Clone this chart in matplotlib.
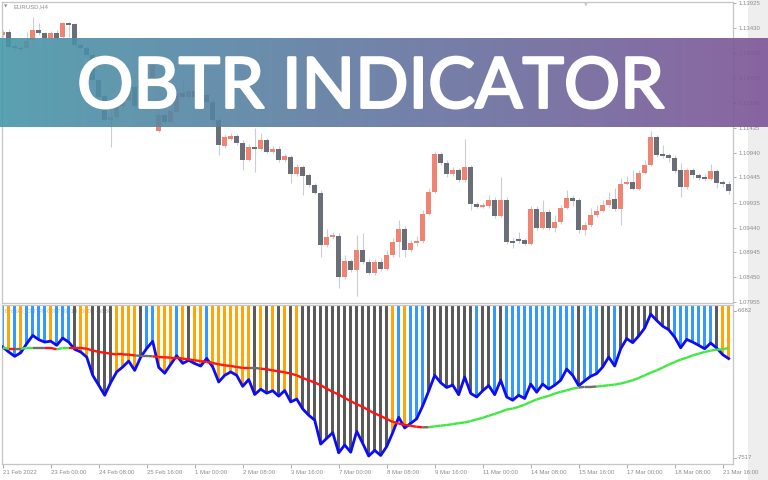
import numpy as np
import matplotlib
matplotlib.use("Agg")
from matplotlib import pyplot as plt
from matplotlib.patches import Rectangle
import matplotlib.patheffects as pe

# EURUSD H4 candles, one entry per bar (21 Feb 16:00 .. 21 Mar 20:00)
opens = [1.13285, 1.13339, 1.13075, 1.13035, 1.13031, 1.13185, 1.13385, 1.13319, 1.13231, 1.13325,
         1.13239, 1.13531, 1.13499, 1.13095, 1.13025, 1.12895, 1.12385, 1.12075, 1.11585, 1.11651,
         1.11865, 1.11985, 1.12239, 1.11865, 1.12351, 1.12419, 1.11371, 1.11685, 1.11551, 1.11751,
         1.12119, 1.12039, 1.12171, 1.12045, 1.12085, 1.11951, 1.11585, 1.11071, 1.11219, 1.11271,
         1.11131, 1.10799, 1.11051, 1.11005, 1.11185, 1.10951, 1.11019, 1.10785, 1.10851, 1.10505,
         1.10651, 1.10485, 1.10285, 1.10139, 1.09085, 1.09251, 1.09279, 1.08451, 1.08771, 1.08585,
         1.08985, 1.08751, 1.08531, 1.08751, 1.08619, 1.08885, 1.09151, 1.09419, 1.08985, 1.09139,
         1.09171, 1.09719, 1.10151, 1.10919, 1.10739, 1.10505, 1.10585, 1.10385, 1.10651, 1.09905,
         1.09851, 1.09865, 1.09999, 1.09671, 1.09999, 1.09171, 1.09205, 1.09185, 1.09119, 1.09819,
         1.09431, 1.09751, 1.09431, 1.09551, 1.09831, 1.10039, 1.09985, 1.09385, 1.09485, 1.09685,
         1.09771, 1.09885, 1.10019, 1.09805, 1.10319, 1.10351, 1.10219, 1.10531, 1.10699, 1.11251,
         1.10905, 1.10885, 1.10839, 1.10585, 1.10251, 1.10585, 1.10485, 1.10451, 1.10419, 1.10565,
         1.10351, 1.10319]
highs = [1.13385, 1.13405, 1.13125, 1.13065, 1.13339, 1.13651, 1.13519, 1.13345, 1.13365, 1.13385,
         1.13551, 1.13555, 1.13525, 1.13125, 1.13065, 1.12945, 1.12425, 1.12125, 1.11785, 1.11925,
         1.12065, 1.12305, 1.12285, 1.12445, 1.12505, 1.12725, 1.11745, 1.11725, 1.11825, 1.12225,
         1.12425, 1.12265, 1.12225, 1.12145, 1.12125, 1.12005, 1.11625, 1.11305, 1.11325, 1.11305,
         1.11185, 1.11105, 1.11425, 1.11325, 1.11225, 1.11065, 1.11065, 1.10905, 1.10885, 1.10705,
         1.10685, 1.10525, 1.10325, 1.10185, 1.09405, 1.09345, 1.09325, 1.08885, 1.08805, 1.09285,
         1.09331, 1.08805, 1.08805, 1.08825, 1.08985, 1.09225, 1.09585, 1.09465, 1.09185, 1.09265,
         1.09785, 1.10225, 1.10965, 1.10951, 1.10785, 1.10645, 1.10625, 1.11219, 1.10685, 1.09945,
         1.09925, 1.10085, 1.10045, 1.10451, 1.10045, 1.09225, 1.09345, 1.09225, 1.09865, 1.09865,
         1.09985, 1.09805, 1.09685, 1.09885, 1.10185, 1.10085, 1.10025, 1.09545, 1.09825, 1.09885,
         1.09985, 1.10145, 1.10225, 1.10425, 1.10465, 1.10585, 1.10585, 1.10785, 1.11365, 1.11285,
         1.11085, 1.10925, 1.10885, 1.10725, 1.10625, 1.10625, 1.10525, 1.10505, 1.10705, 1.10605,
         1.10385, 1.10365]
lows = [1.13255, 1.13025, 1.12985, 1.12965, 1.13005, 1.13165, 1.13285, 1.13185, 1.13205, 1.13205,
        1.13215, 1.13251, 1.13055, 1.12985, 1.12845, 1.12345, 1.11865, 1.11545, 1.11051, 1.11585,
        1.11825, 1.11965, 1.11785, 1.11825, 1.12325, 1.12385, 1.11345, 1.11505, 1.11525, 1.11725,
        1.12005, 1.12005, 1.11985, 1.12005, 1.11905, 1.11505, 1.10885, 1.11025, 1.11185, 1.11085,
        1.10585, 1.10765, 1.10551, 1.10985, 1.10925, 1.10925, 1.10745, 1.10745, 1.10325, 1.10465,
        1.10085, 1.10245, 1.10105, 1.08851, 1.09045, 1.09205, 1.08225, 1.08405, 1.08545, 1.08071,
        1.08705, 1.08485, 1.08485, 1.08565, 1.08585, 1.08845, 1.08851, 1.08845, 1.08945, 1.09065,
        1.09125, 1.09685, 1.10125, 1.10685, 1.10445, 1.10465, 1.10345, 1.10345, 1.09785, 1.09825,
        1.09825, 1.09825, 1.09625, 1.09645, 1.09105, 1.09025, 1.09125, 1.09085, 1.09085, 1.09385,
        1.09405, 1.09385, 1.09345, 1.09505, 1.09805, 1.09865, 1.09325, 1.09285, 1.09445, 1.09645,
        1.09745, 1.09845, 1.09765, 1.09485, 1.10285, 1.10185, 1.10185, 1.10505, 1.10665, 1.10845,
        1.10825, 1.10745, 1.10525, 1.10045, 1.10205, 1.10425, 1.10385, 1.10365, 1.10385, 1.10225,
        1.10245, 1.10105]
closes = [1.13339, 1.13051, 1.13019, 1.13011, 1.13171, 1.13385, 1.13319, 1.13231, 1.13331, 1.13231,
          1.13531, 1.13491, 1.13085, 1.13019, 1.12885, 1.12385, 1.12051, 1.11585, 1.11655, 1.11885,
          1.12019, 1.12239, 1.11865, 1.12385, 1.12425, 1.12685, 1.11685, 1.11551, 1.11771, 1.12119,
          1.12039, 1.12171, 1.12045, 1.12085, 1.11951, 1.11585, 1.11085, 1.11251, 1.11271, 1.11131,
          1.10799, 1.11051, 1.11011, 1.11185, 1.10951, 1.11019, 1.10785, 1.10865, 1.10505, 1.10651,
          1.10465, 1.10285, 1.10139, 1.09085, 1.09251, 1.09299, 1.08451, 1.08771, 1.08585, 1.08985,
          1.08751, 1.08531, 1.08751, 1.08619, 1.08885, 1.09151, 1.09419, 1.08985, 1.09139, 1.09171,
          1.09719, 1.10151, 1.10919, 1.10739, 1.10505, 1.10585, 1.10385, 1.10651, 1.09905, 1.09851,
          1.09885, 1.09999, 1.09671, 1.09999, 1.09151, 1.09131, 1.09171, 1.09119, 1.09819, 1.09431,
          1.09751, 1.09431, 1.09551, 1.09831, 1.10039, 1.09971, 1.09385, 1.09485, 1.09685, 1.09771,
          1.09885, 1.09999, 1.09805, 1.10319, 1.10351, 1.10219, 1.10531, 1.10699, 1.11251, 1.10885,
          1.10871, 1.10839, 1.10565, 1.10251, 1.10585, 1.10485, 1.10439, 1.10419, 1.10565, 1.10339,
          1.10305, 1.10171]

# OBTR indicator: main line (also the histogram height) and its signal line
obtr = [-6906, -6932, -6955, -6936, -6888, -6845, -6867, -6880, -6875, -6897,
        -6859, -6880, -6918, -6932, -6959, -7055, -7107, -7160, -7093, -7037,
        -7011, -6980, -7029, -6959, -6913, -6876, -7013, -7044, -6997, -6952,
        -6992, -6976, -6993, -7006, -6966, -7011, -7090, -7055, -7037, -7055,
        -7113, -7077, -7156, -7128, -7149, -7136, -7165, -7135, -7195, -7180,
        -7232, -7265, -7291, -7417, -7387, -7357, -7463, -7422, -7460, -7350,
        -7413, -7480, -7450, -7477, -7430, -7357, -7276, -7332, -7308, -7284,
        -7216, -7138, -7055, -7094, -7119, -7106, -7157, -7064, -7150, -7169,
        -7136, -7109, -7157, -7081, -7169, -7186, -7160, -7177, -7101, -7144,
        -7101, -7127, -7107, -7081, -7022, -7055, -7110, -7084, -7060, -7046,
        -7011, -6959, -7006, -6915, -6862, -6883, -6848, -6806, -6733, -6766,
        -6796, -6815, -6854, -6910, -6866, -6880, -6897, -6915, -6885, -6911,
        -6946, -6967]
obtr_ma = [-6909, -6915, -6915, -6915, -6911, -6911, -6911, -6911, -6911, -6918,
           -6911, -6911, -6911, -6911, -6915, -6924, -6932, -6936, -6941, -6945,
           -6945, -6946, -6950, -6953, -6953, -6955, -6959, -6960, -6962, -6962,
           -6967, -6971, -6976, -6980, -6985, -6990, -6997, -7002, -7006, -7011,
           -7016, -7016, -7016, -7020, -7023, -7029, -7034, -7039, -7046, -7055,
           -7069, -7081, -7093, -7107, -7125, -7142, -7156, -7174, -7191, -7207,
           -7221, -7239, -7256, -7269, -7285, -7300, -7309, -7316, -7321, -7326,
           -7329, -7328, -7324, -7320, -7317, -7312, -7307, -7303, -7296, -7287,
           -7279, -7268, -7258, -7247, -7235, -7230, -7221, -7209, -7195, -7182,
           -7172, -7163, -7151, -7142, -7134, -7125, -7119, -7116, -7116, -7114,
           -7111, -7107, -7104, -7098, -7090, -7081, -7069, -7055, -7041, -7029,
           -7014, -6999, -6985, -6972, -6962, -6950, -6941, -6932, -6925, -6920,
           -6917, -6911]
# b = blue, o = orange, k = grey histogram bar
hist_colors = ("bobobbbbobbb" "kookkkkooook" "bbooobokoobo" "ooooookokoko"
               "kokkkkkkkkkkkkkkk" "obobbb" "kkkkkkkk" "bkkbk" "bbbbbbbbbbbb"
               "k" "bbb" "kk" "b" "kkkkkkkkk" "bbbbbbb" "k" "oo")
# g = green, r = red, k = grey signal segment
ma_colors = ("ggrkggkkrrgg" "rrrrrrrrrrr" "kkk" "rrrrrrrrrrrrrrrr" "kk"
             "rrrrrrrrrrrrrrrrrrrrrrrrrrr" "k" "ggggggggggggggggggggggggg"
             "kkk" "gggggggggggggggggggggg")

price_ticks = [1.13925, 1.13430, 1.12935, 1.12425, 1.11930, 1.11435, 1.10940,
               1.10445, 1.09935, 1.09440, 1.08945, 1.08450, 1.07955]
date_bars = [0, 8, 16, 24, 32, 40, 48, 56, 64, 72, 80, 88, 96, 104, 112, 120]
date_labels = ['21 Feb 2022', '23 Feb 00:00', '24 Feb 08:00', '25 Feb 16:00',
               '1 Mar 00:00', '2 Mar 08:00', '3 Mar 16:00', '7 Mar 00:00',
               '8 Mar 08:00', '9 Mar 16:00', '11 Mar 00:00', '14 Mar 08:00',
               '15 Mar 16:00', '17 Mar 00:00', '18 Mar 08:00', '21 Mar 16:00']
ind_range = (-7522, -6682)
ind_labels = ['-6682', '-7517']

BULL, BEAR, WICK = '#ef8473', '#6a6f77', '#c9cdda'
HIST = {'b': '#3399ff', 'o': '#ffa50a', 'k': '#5a5a5a'}
MA = {'r': '#ff1414', 'g': '#40e840', 'k': '#6e6e6e'}
TXT = '#8c8c8c'
FRAME = '#c6c6c6'

plt.rcParams['font.family'] = ['Liberation Sans', 'DejaVu Sans']

W, H = 768, 480
fig = plt.figure(figsize=(W / 100, H / 100), dpi=100)
fig.patch.set_facecolor('white')


def box(x0, y0, x1, y1):
    # pixel box (top-left origin) -> figure fraction rect
    return [x0 / W, 1 - y1 / H, (x1 - x0) / W, (y1 - y0) / H]


fig.add_artist(Rectangle((748 / W, 0), 20 / W, 1, transform=fig.transFigure,
                         facecolor='#eeeeee', edgecolor='none', zorder=-5))

x = np.arange(len(closes))
o, h, l, c = map(np.asarray, (opens, highs, lows, closes))
xlim = (-0.17, 121.77)

# ---- price panel ----
ax = fig.add_axes(box(1.7, 2, 733.3, 302.5))
ax.set_facecolor('white')
bull = c >= o
ax.vlines(x, l, h, color=WICK, lw=0.8, zorder=1)
ax.bar(x, np.maximum(np.abs(c - o), 0.00012), bottom=np.minimum(o, c), width=0.76,
       color=np.where(bull, BULL, BEAR), linewidth=0, zorder=2)
ax.set_xlim(*xlim)
ax.set_ylim(1.07945, 1.13945)
ax.set_xticks([])
ax.set_yticks(price_ticks, labels=[f'{p:.5f}' for p in price_ticks])
ax.tick_params(axis='y', left=False, right=True, labelleft=False, labelright=True,
               length=2.5, width=0.6, color='#a0a0a0', pad=1.5, labelsize=4.3,
               labelcolor=TXT)
for s in ax.spines.values():
    s.set_color(FRAME)
    s.set_linewidth(0.9)

fig.text(3.5 / W, 1 - 7 / H, '▼', fontsize=3.2, color=TXT, va='center',
         family='DejaVu Sans')
fig.text(13 / W, 1 - 7 / H, 'EURUSD,H4', fontsize=4.3, color=TXT, va='center')
fig.text(586 / W, 1 - 3.5 / H, '▼', fontsize=3.5, color='#c8c8c8', va='center',
         ha='center', family='DejaVu Sans')

# ---- indicator panel ----
ax2 = fig.add_axes(box(1.7, 304.5, 733.3, 464))
ax2.set_facecolor('white')
ax2.text(0.0045, 0.958, 'Brooky_OBTR -6697 -6919 -6900 -6880', transform=ax2.transAxes,
         fontsize=4.3, color='#b8b8b8', va='center', zorder=0)
ax2.bar(x, obtr, width=0.46, color=[HIST[k] for k in hist_colors], linewidth=0, zorder=1)
ax2.plot(x, obtr, color='#0c0cf5', lw=2.0, zorder=3)
for i in range(1, len(obtr_ma)):
    ax2.plot(x[i - 1:i + 1], obtr_ma[i - 1:i + 1], color=MA[ma_colors[i]], lw=1.7,
             solid_capstyle='butt', zorder=4)
ax2.set_xlim(*xlim)
ax2.set_ylim(*ind_range)
ax2.set_yticks([])
ax2.set_xticks(date_bars, labels=date_labels)
ax2.tick_params(axis='x', length=3, width=0.6, color='#a0a0a0', pad=1,
                labelsize=4.3, labelcolor=TXT)
for lbl in ax2.get_xticklabels():
    lbl.set_horizontalalignment('left')
for s in ax2.spines.values():
    s.set_color(FRAME)
    s.set_linewidth(0.9)
for yy, txt in zip((0.962, 0.038), ind_labels):
    ax2.plot([1.0, 1.0035], [yy, yy], color='#a0a0a0', lw=0.6,
             transform=ax2.transAxes, clip_on=False)
    ax2.text(1.0045, yy, txt, transform=ax2.transAxes, fontsize=4.3, color=TXT,
             va='center')

# ---- title banner laid over the chart ----
banner = fig.add_axes(box(0, 37.5, 768, 127.5), zorder=10)
t = np.linspace(0, 1, 256)[None, :, None]
left = np.array([0.28, 0.59, 0.66])
right = np.array([0.49, 0.33, 0.59])
banner.imshow(left * (1 - t) + right * t, aspect='auto', extent=(0, 1, 0, 1), alpha=0.9)
banner.set_axis_off()
banner.text(0.482, 0.22, 'OBTR INDICATOR', transform=banner.transAxes,
            ha='center', va='baseline', fontsize=50.5, color='white', family='Lato',
            path_effects=[pe.withStroke(linewidth=1.8, foreground='white')])

fig.savefig('out.png', dpi=100)
